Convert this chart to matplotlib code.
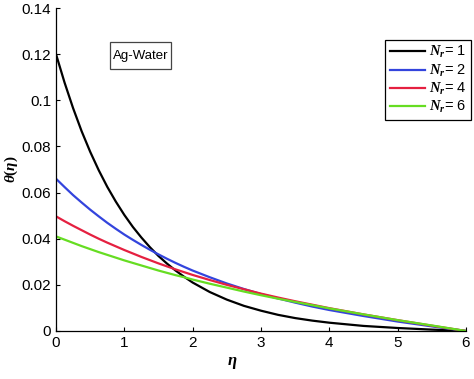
import matplotlib
matplotlib.use("Agg")
import matplotlib.pyplot as plt
from matplotlib.patches import Rectangle

plt.rcParams['font.family'] = ['Liberation Sans', 'DejaVu Sans']
plt.rcParams['mathtext.fontset'] = 'custom'
plt.rcParams['mathtext.it'] = 'Liberation Serif:italic:bold'
plt.rcParams['mathtext.rm'] = 'Liberation Serif:bold'
plt.rcParams['mathtext.bf'] = 'Liberation Serif:bold'

eta = [0, 0.125, 0.25, 0.375, 0.5, 0.625, 0.75, 0.875, 1.0, 1.125, 1.25, 1.375, 1.5,
       1.625, 1.75, 1.875, 2.0, 2.25, 2.5, 2.75, 3.0, 3.25, 3.5, 3.75, 4.0, 4.5, 5.0, 5.5, 6.0]
theta_nr1 = [0.120, 0.1077, 0.0966, 0.0866, 0.0777, 0.0697, 0.0625, 0.0561, 0.0503, 0.0451,
             0.0405, 0.0363, 0.0325, 0.0292, 0.0262, 0.0235, 0.0210, 0.0169, 0.0136, 0.0109,
             0.0088, 0.0070, 0.0056, 0.0045, 0.0036, 0.0022, 0.0013, 0.0006, 0.0]
theta_nr2 = [0.066, 0.0624, 0.0589, 0.0557, 0.0526, 0.0497, 0.0469, 0.0443, 0.0418, 0.0395,
             0.0373, 0.0352, 0.0332, 0.0313, 0.0295, 0.0278, 0.0262, 0.0233, 0.0206, 0.0182,
             0.0160, 0.0141, 0.0123, 0.0106, 0.0091, 0.0065, 0.0041, 0.0020, 0.0]
theta_nr4 = [0.0497, 0.0476, 0.0456, 0.0437, 0.0418, 0.0400, 0.0383, 0.0367, 0.0351, 0.0336,
             0.0321, 0.0307, 0.0293, 0.0280, 0.0267, 0.0255, 0.0243, 0.0221, 0.0200, 0.0181,
             0.0162, 0.0145, 0.0129, 0.0114, 0.0099, 0.0072, 0.0047, 0.0023, 0.0]
theta_nr6 = [0.041, 0.0396, 0.0382, 0.0368, 0.0355, 0.0342, 0.0330, 0.0318, 0.0306, 0.0295,
             0.0284, 0.0273, 0.0262, 0.0252, 0.0242, 0.0233, 0.0223, 0.0205, 0.0188, 0.0171,
             0.0155, 0.0140, 0.0126, 0.0112, 0.0098, 0.0072, 0.0047, 0.0024, 0.0]

series = [theta_nr1, theta_nr2, theta_nr4, theta_nr6]
labels = [r'$N_r$= 1', r'$N_r$= 2', r'$N_r$= 4', r'$N_r$= 6']
colors = ['#000000', '#3344dd', '#e52040', '#66dd22']
yticks = [0, 0.02, 0.04, 0.06, 0.08, 0.1, 0.12, 0.14]
yticklabels = ['0', '0.02', '0.04', '0.06', '0.08', '0.1', '0.12', '0.14']
xticks = [0, 1, 2, 3, 4, 5, 6]

fig = plt.figure(figsize=(4.74, 3.79), dpi=100)
ax = fig.add_axes([56/474, 1-331/379, 410/474, 323/379])

for y, lab, c in zip(series, labels, colors):
    ax.plot(eta, y, color=c, lw=1.6, label=lab)

ax.set_xlim(0, 6)
ax.set_ylim(0, 0.14)
ax.set_xticks(xticks)
ax.set_yticks(yticks)
ax.set_yticklabels(yticklabels)
ax.spines['top'].set_visible(False)
ax.spines['right'].set_visible(False)
ax.tick_params(direction='in', labelsize=11, length=3, width=0.8)
for s in ['left', 'bottom']:
    ax.spines[s].set_linewidth(0.9)

ax.set_xlabel(r'$\eta$', fontsize=12)
ax.xaxis.set_label_coords(0.43, -0.075)
ax.set_ylabel(r'$\theta(\eta)$', fontsize=11)
ax.yaxis.set_label_coords(-0.088, 0.5)

fig.patches.append(Rectangle((110/474, 1-69/379), 61/474, 27/379, transform=fig.transFigure,
                             fc='white', ec='#444444', lw=0.9))
fig.text(141/474, 1-55.5/379, 'Ag-Water', ha='center', va='center', fontsize=9.5)

leg = fig.legend(loc='upper right', bbox_to_anchor=(471/474, 1-40/379), fontsize=10.5,
                 frameon=True, fancybox=False, framealpha=1, edgecolor='black',
                 handlelength=2.4, handletextpad=0.3, labelspacing=0.15, borderpad=0.3,
                 borderaxespad=0)
leg.get_frame().set_linewidth(0.9)

fig.savefig('out.png', dpi=100)
